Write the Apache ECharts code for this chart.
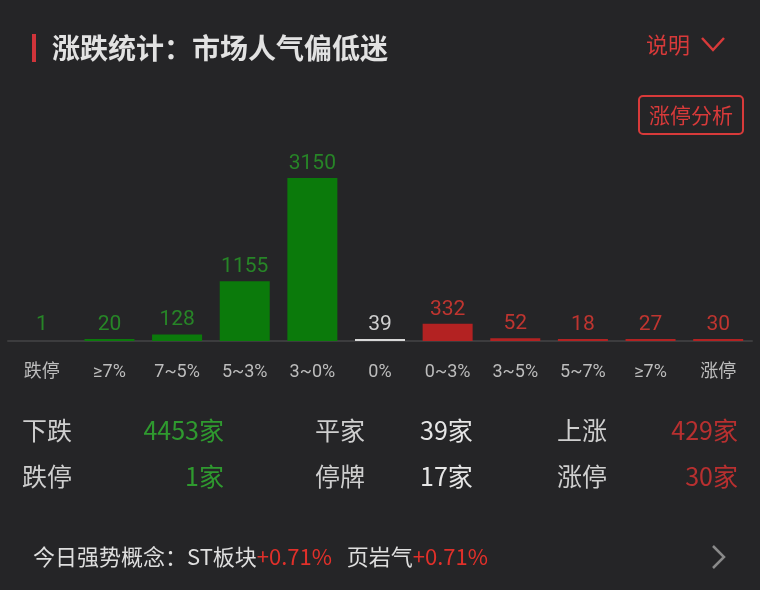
<!DOCTYPE html>
<html><head><meta charset="utf-8">
<style>html,body{margin:0;padding:0;background:#252527;}#c{width:760px;height:590px;}</style>
<script src="https://cdn.jsdelivr.net/npm/echarts@6/dist/echarts.min.js"></script>
</head><body><div id="c"></div>
<script>
const categories = ['跌停','≥7%','7~5%','5~3%','3~0%','0%','0~3%','3~5%','5~7%','≥7%','涨停'];
const values = [1, 20, 128, 1155, 3150, 39, 332, 52, 18, 27, 30];
const kinds = ['down','down','down','down','down','flat','up','up','up','up','up'];
const statsLeft = [['下跌','4453家'],['跌停','1家']];
const statsMid = [['平家','39家'],['停牌','17家']];
const statsRight = [['上涨','429家'],['涨停','30家']];
const title = '涨跌统计：市场人气偏低迷';
const concepts = [['ST板块','+0.71%'],['页岩气','+0.71%']];

const FF = 'Roboto, "Noto Sans CJK SC", sans-serif';
const CJK = '"Noto Sans CJK SC", sans-serif';
const GREEN = '#0b7a0b', GREEN_T = '#278527', RED = '#b32222', RED_T = '#bf3530', FLAT = '#d8d8d8';
const barColor = k => k==='down'?GREEN:(k==='up'?RED:FLAT);
const txtColor = k => k==='down'?GREEN_T:(k==='up'?RED_T:'#d0d0d0');

const data = values.map((v,i)=>({
  value:v,
  itemStyle:{color: (i===0 ? 'rgba(0,0,0,0)' : barColor(kinds[i]))},
  label:{color:txtColor(kinds[i])}
}));

const g = [];
g.push({type:'rect',shape:{x:32,y:34,width:4,height:28},style:{fill:'#d0343a'}});
g.push({type:'text',x:52,y:48,style:{text:title,font:'bold 28px '+CJK,fill:'#e2e2e2',textVerticalAlign:'middle'}});
g.push({type:'text',x:646,y:45,style:{text:'说明',font:'22px '+CJK,fill:'#d83a3a',textVerticalAlign:'middle'}});
g.push({type:'polyline',shape:{points:[[702,38],[713,50],[724,38]]},style:{stroke:'#d83a3a',lineWidth:2.5,fill:null}});
g.push({type:'rect',shape:{x:639,y:96,width:104,height:38,r:4},style:{stroke:'#d83a3a',lineWidth:2,fill:'none'}});
g.push({type:'text',x:691,y:115,style:{text:'涨停分析',font:'21px '+CJK,fill:'#d83a3a',textAlign:'center',textVerticalAlign:'middle'}});
const rowY = [430, 476];
const SF = '25px '+CJK;
statsLeft.forEach((r,i)=>{
  g.push({type:'text',x:22,y:rowY[i],style:{text:r[0],font:SF,fill:'#cfcfcf',textVerticalAlign:'middle'}});
  g.push({type:'text',x:224,y:rowY[i],style:{text:r[1],font:SF,fill:'#2f9a2f',textAlign:'right',textVerticalAlign:'middle'}});
});
statsMid.forEach((r,i)=>{
  g.push({type:'text',x:315,y:rowY[i],style:{text:r[0],font:SF,fill:'#cfcfcf',textVerticalAlign:'middle'}});
  g.push({type:'text',x:420,y:rowY[i],style:{text:r[1],font:SF,fill:'#e6e6e6',textVerticalAlign:'middle'}});
});
statsRight.forEach((r,i)=>{
  g.push({type:'text',x:557,y:rowY[i],style:{text:r[0],font:SF,fill:'#cfcfcf',textVerticalAlign:'middle'}});
  g.push({type:'text',x:738,y:rowY[i],style:{text:r[1],font:SF,fill:'#b83030',textAlign:'right',textVerticalAlign:'middle'}});
});
const rich = {w:{fill:'#dedede',fontSize:22,fontFamily:CJK},r:{fill:'#e0302a',fontSize:22,fontFamily:CJK}};
let txt = '{w|今日强势概念：}';
concepts.forEach((c,i)=>{ txt += '{w|'+(i>0?'   ':'')+c[0]+'}{r|'+c[1]+'}'; });
g.push({type:'text',x:33,y:557,style:{text:txt,rich:rich,textVerticalAlign:'middle'}});
g.push({type:'polyline',shape:{points:[[713,546],[724,557],[713,568]]},style:{stroke:'#8a8a8a',lineWidth:2.5,fill:null}});

const chart = echarts.init(document.getElementById('c'));
chart.setOption({
  backgroundColor:'#252527',
  animation:false,
  grid:{left:8,right:8,top:178,bottom:249},
  xAxis:{type:'category',data:categories,
    axisLine:{lineStyle:{color:'#3c3c3e',width:2}},
    axisTick:{show:false},
    axisLabel:{color:'#bdbdbd',fontSize:18,fontFamily:FF,margin:23,interval:0}},
  yAxis:{type:'value',min:0,max:'dataMax',show:false,splitLine:{show:false}},
  series:[{type:'bar',data:data,barWidth:50,barMinHeight:2,
    label:{show:true,position:'top',distance:4,fontSize:21,fontFamily:FF}}],
  graphic:g
});
</script></body></html>
